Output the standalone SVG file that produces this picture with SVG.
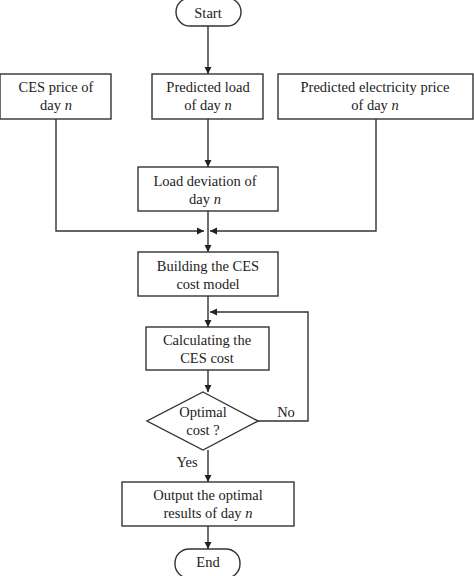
<svg xmlns="http://www.w3.org/2000/svg" width="474" height="576" viewBox="0 0 474 576">
<style>
.box{fill:#fff;stroke:#333;stroke-width:1.4}
.ln{fill:none;stroke:#333;stroke-width:1.4}
text{font-family:"Liberation Serif","Times New Roman",serif;font-size:14.5px;fill:#222;text-anchor:middle}
.it{font-style:italic}
</style>
<defs>
<marker id="ah" markerWidth="8" markerHeight="8" refX="7" refY="4" orient="auto" markerUnits="userSpaceOnUse">
<path d="M0,0.5 L7,4 L0,7.5 Z" fill="#222"/>
</marker>
</defs>
<rect width="474" height="576" fill="#fff"/>
<g id="connectors">
<line class="ln" x1="208" y1="26" x2="208" y2="74" marker-end="url(#ah)"/>
<line class="ln" x1="208" y1="119" x2="208" y2="167" marker-end="url(#ah)"/>
<polyline class="ln" points="56,119 56,231 204,231" marker-end="url(#ah)"/>
<polyline class="ln" points="376,119 376,231 210,231" marker-end="url(#ah)"/>
<line class="ln" x1="208" y1="211" x2="208" y2="252" marker-end="url(#ah)"/>
<line class="ln" x1="208" y1="296" x2="208" y2="327" marker-end="url(#ah)"/>
<line class="ln" x1="208" y1="370" x2="208" y2="392" marker-end="url(#ah)"/>
<polyline class="ln" points="258,421 308,421 308,312 210,312" marker-end="url(#ah)"/>
<line class="ln" x1="208" y1="450" x2="208" y2="482" marker-end="url(#ah)"/>
<line class="ln" x1="208" y1="526" x2="208" y2="549" marker-end="url(#ah)"/>
</g>
<g id="start">
<rect class="box" x="176" y="-2" width="65" height="28" rx="14" ry="14"/>
<text x="208" y="18">Start</text>
</g>
<g id="ces-price">
<rect class="box" x="0" y="74" width="111" height="45"/>
<text x="56" y="92">CES price of</text>
<text x="56" y="110">day <tspan class="it">n</tspan></text>
</g>
<g id="predicted-load">
<rect class="box" x="152" y="74" width="111" height="45"/>
<text x="208" y="92">Predicted load</text>
<text x="208" y="110">of day <tspan class="it">n</tspan></text>
</g>
<g id="predicted-price">
<rect class="box" x="278" y="74" width="195" height="45"/>
<text x="375" y="92">Predicted electricity price</text>
<text x="375" y="110">of day <tspan class="it">n</tspan></text>
</g>
<g id="load-deviation">
<rect class="box" x="138" y="167" width="140" height="44"/>
<text x="205" y="186">Load deviation of</text>
<text x="205" y="204">day <tspan class="it">n</tspan></text>
</g>
<g id="building">
<rect class="box" x="138" y="252" width="140" height="44"/>
<text x="208" y="271">Building the CES</text>
<text x="208" y="289">cost model</text>
</g>
<g id="calculating">
<rect class="box" x="146" y="327" width="123" height="43"/>
<text x="207" y="345">Calculating the</text>
<text x="207" y="363">CES cost</text>
</g>
<g id="optimal">
<polygon class="box" points="203,392 258,421 203,450 147,421"/>
<text x="203" y="417">Optimal</text>
<text x="203" y="435">cost ?</text>
</g>
<text x="286" y="417">No</text>
<text x="187" y="467">Yes</text>
<g id="output">
<rect class="box" x="122" y="482" width="172" height="44"/>
<text x="208" y="500">Output the optimal</text>
<text x="208" y="518">results of day <tspan class="it">n</tspan></text>
</g>
<g id="end">
<rect class="box" x="175" y="549" width="65" height="29" rx="14" ry="14"/>
<text x="208" y="567">End</text>
</g>
</svg>
